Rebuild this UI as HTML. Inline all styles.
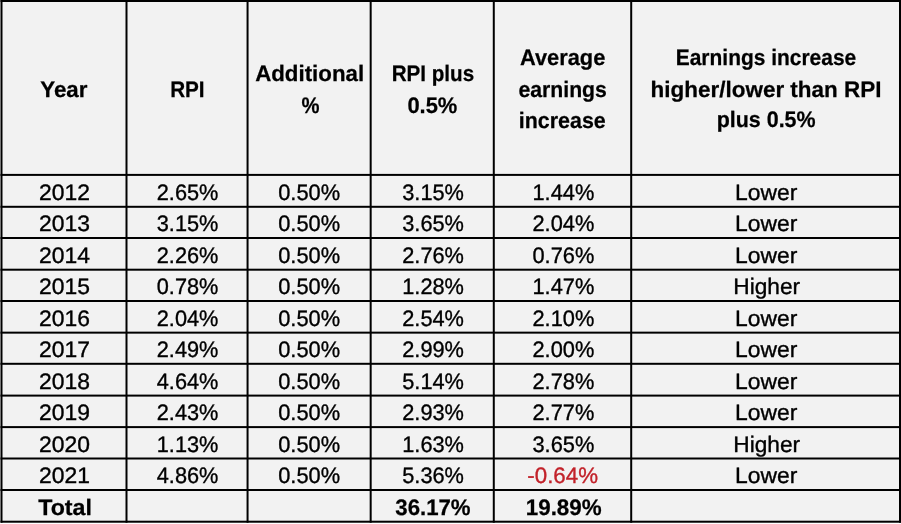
<!DOCTYPE html>
<html><head><meta charset="utf-8"><style>
html,body{margin:0;padding:0;width:901px;height:524px;overflow:hidden;background:#fff}
svg text{font-family:"Liberation Sans", sans-serif;text-rendering:geometricPrecision;}
</style></head><body>
<svg width="901" height="524" viewBox="0 0 901 524" style="display:block;will-change:transform"><rect x="0" y="0" width="901" height="524" fill="#ffffff"/><rect x="0" y="0" width="901" height="523" fill="#f2f2f2"/><rect x="0.50" y="0.00" width="2.00" height="522.70" fill="#000"/><rect x="125.50" y="0.00" width="2.00" height="522.70" fill="#000"/><rect x="246.56" y="0.00" width="2.00" height="522.70" fill="#000"/><rect x="369.67" y="0.00" width="2.00" height="522.70" fill="#000"/><rect x="492.78" y="0.00" width="2.00" height="522.70" fill="#000"/><rect x="630.20" y="0.00" width="2.00" height="522.70" fill="#000"/><rect x="899.00" y="0.00" width="2.00" height="522.70" fill="#000"/><rect x="0.50" y="0.00" width="900.50" height="2.00" fill="#000"/><rect x="0.50" y="173.90" width="900.50" height="2.00" fill="#000"/><rect x="0.50" y="205.80" width="900.50" height="2.00" fill="#000"/><rect x="0.50" y="237.00" width="900.50" height="2.00" fill="#000"/><rect x="0.50" y="268.70" width="900.50" height="2.00" fill="#000"/><rect x="0.50" y="300.00" width="900.50" height="2.00" fill="#000"/><rect x="0.50" y="331.65" width="900.50" height="2.00" fill="#000"/><rect x="0.50" y="362.80" width="900.50" height="2.00" fill="#000"/><rect x="0.50" y="394.60" width="900.50" height="2.00" fill="#000"/><rect x="0.50" y="426.10" width="900.50" height="2.00" fill="#000"/><rect x="0.50" y="457.50" width="900.50" height="2.00" fill="#000"/><rect x="0.50" y="489.00" width="900.50" height="2.00" fill="#000"/><rect x="0.50" y="520.70" width="900.50" height="2.00" fill="#000"/><text x="64.58" y="199.60" text-anchor="middle" font-weight="normal" fill="#000" stroke="#000" stroke-width="0.35" font-size="22.40" textLength="50.95" lengthAdjust="spacingAndGlyphs">2012</text><text x="187.60" y="199.60" text-anchor="middle" font-weight="normal" fill="#000" stroke="#000" stroke-width="0.35" font-size="22.40" textLength="61.67" lengthAdjust="spacingAndGlyphs">2.65%</text><text x="309.17" y="199.60" text-anchor="middle" font-weight="normal" fill="#000" stroke="#000" stroke-width="0.35" font-size="22.40" textLength="61.88" lengthAdjust="spacingAndGlyphs">0.50%</text><text x="433.09" y="199.60" text-anchor="middle" font-weight="normal" fill="#000" stroke="#000" stroke-width="0.35" font-size="22.40" textLength="61.70" lengthAdjust="spacingAndGlyphs">3.15%</text><text x="563.41" y="199.60" text-anchor="middle" font-weight="normal" fill="#000" stroke="#000" stroke-width="0.35" font-size="22.40" textLength="61.83" lengthAdjust="spacingAndGlyphs">1.44%</text><text x="766.15" y="199.60" text-anchor="middle" font-weight="normal" fill="#000" stroke="#000" stroke-width="0.35" font-size="22.40" textLength="62.32" lengthAdjust="spacingAndGlyphs">Lower</text><text x="64.58" y="231.10" text-anchor="middle" font-weight="normal" fill="#000" stroke="#000" stroke-width="0.35" font-size="22.40" textLength="50.95" lengthAdjust="spacingAndGlyphs">2013</text><text x="187.60" y="231.10" text-anchor="middle" font-weight="normal" fill="#000" stroke="#000" stroke-width="0.35" font-size="22.40" textLength="61.67" lengthAdjust="spacingAndGlyphs">3.15%</text><text x="309.17" y="231.10" text-anchor="middle" font-weight="normal" fill="#000" stroke="#000" stroke-width="0.35" font-size="22.40" textLength="61.88" lengthAdjust="spacingAndGlyphs">0.50%</text><text x="433.09" y="231.10" text-anchor="middle" font-weight="normal" fill="#000" stroke="#000" stroke-width="0.35" font-size="22.40" textLength="61.70" lengthAdjust="spacingAndGlyphs">3.65%</text><text x="563.41" y="231.10" text-anchor="middle" font-weight="normal" fill="#000" stroke="#000" stroke-width="0.35" font-size="22.40" textLength="61.83" lengthAdjust="spacingAndGlyphs">2.04%</text><text x="766.15" y="231.10" text-anchor="middle" font-weight="normal" fill="#000" stroke="#000" stroke-width="0.35" font-size="22.40" textLength="62.32" lengthAdjust="spacingAndGlyphs">Lower</text><text x="64.58" y="262.60" text-anchor="middle" font-weight="normal" fill="#000" stroke="#000" stroke-width="0.35" font-size="22.40" textLength="50.95" lengthAdjust="spacingAndGlyphs">2014</text><text x="187.60" y="262.60" text-anchor="middle" font-weight="normal" fill="#000" stroke="#000" stroke-width="0.35" font-size="22.40" textLength="61.67" lengthAdjust="spacingAndGlyphs">2.26%</text><text x="309.17" y="262.60" text-anchor="middle" font-weight="normal" fill="#000" stroke="#000" stroke-width="0.35" font-size="22.40" textLength="61.88" lengthAdjust="spacingAndGlyphs">0.50%</text><text x="433.09" y="262.60" text-anchor="middle" font-weight="normal" fill="#000" stroke="#000" stroke-width="0.35" font-size="22.40" textLength="61.70" lengthAdjust="spacingAndGlyphs">2.76%</text><text x="563.41" y="262.60" text-anchor="middle" font-weight="normal" fill="#000" stroke="#000" stroke-width="0.35" font-size="22.40" textLength="61.83" lengthAdjust="spacingAndGlyphs">0.76%</text><text x="766.15" y="262.60" text-anchor="middle" font-weight="normal" fill="#000" stroke="#000" stroke-width="0.35" font-size="22.40" textLength="62.32" lengthAdjust="spacingAndGlyphs">Lower</text><text x="64.58" y="294.10" text-anchor="middle" font-weight="normal" fill="#000" stroke="#000" stroke-width="0.35" font-size="22.40" textLength="50.95" lengthAdjust="spacingAndGlyphs">2015</text><text x="187.60" y="294.10" text-anchor="middle" font-weight="normal" fill="#000" stroke="#000" stroke-width="0.35" font-size="22.40" textLength="61.67" lengthAdjust="spacingAndGlyphs">0.78%</text><text x="309.17" y="294.10" text-anchor="middle" font-weight="normal" fill="#000" stroke="#000" stroke-width="0.35" font-size="22.40" textLength="61.88" lengthAdjust="spacingAndGlyphs">0.50%</text><text x="433.09" y="294.10" text-anchor="middle" font-weight="normal" fill="#000" stroke="#000" stroke-width="0.35" font-size="22.40" textLength="61.70" lengthAdjust="spacingAndGlyphs">1.28%</text><text x="563.41" y="294.10" text-anchor="middle" font-weight="normal" fill="#000" stroke="#000" stroke-width="0.35" font-size="22.40" textLength="61.83" lengthAdjust="spacingAndGlyphs">1.47%</text><text x="766.70" y="294.10" text-anchor="middle" font-weight="normal" fill="#000" stroke="#000" stroke-width="0.35" font-size="22.40" textLength="66.89" lengthAdjust="spacingAndGlyphs">Higher</text><text x="64.58" y="325.60" text-anchor="middle" font-weight="normal" fill="#000" stroke="#000" stroke-width="0.35" font-size="22.40" textLength="50.95" lengthAdjust="spacingAndGlyphs">2016</text><text x="187.60" y="325.60" text-anchor="middle" font-weight="normal" fill="#000" stroke="#000" stroke-width="0.35" font-size="22.40" textLength="61.67" lengthAdjust="spacingAndGlyphs">2.04%</text><text x="309.17" y="325.60" text-anchor="middle" font-weight="normal" fill="#000" stroke="#000" stroke-width="0.35" font-size="22.40" textLength="61.88" lengthAdjust="spacingAndGlyphs">0.50%</text><text x="433.09" y="325.60" text-anchor="middle" font-weight="normal" fill="#000" stroke="#000" stroke-width="0.35" font-size="22.40" textLength="61.70" lengthAdjust="spacingAndGlyphs">2.54%</text><text x="563.41" y="325.60" text-anchor="middle" font-weight="normal" fill="#000" stroke="#000" stroke-width="0.35" font-size="22.40" textLength="61.83" lengthAdjust="spacingAndGlyphs">2.10%</text><text x="766.15" y="325.60" text-anchor="middle" font-weight="normal" fill="#000" stroke="#000" stroke-width="0.35" font-size="22.40" textLength="62.32" lengthAdjust="spacingAndGlyphs">Lower</text><text x="64.58" y="357.10" text-anchor="middle" font-weight="normal" fill="#000" stroke="#000" stroke-width="0.35" font-size="22.40" textLength="50.95" lengthAdjust="spacingAndGlyphs">2017</text><text x="187.60" y="357.10" text-anchor="middle" font-weight="normal" fill="#000" stroke="#000" stroke-width="0.35" font-size="22.40" textLength="61.67" lengthAdjust="spacingAndGlyphs">2.49%</text><text x="309.17" y="357.10" text-anchor="middle" font-weight="normal" fill="#000" stroke="#000" stroke-width="0.35" font-size="22.40" textLength="61.88" lengthAdjust="spacingAndGlyphs">0.50%</text><text x="433.09" y="357.10" text-anchor="middle" font-weight="normal" fill="#000" stroke="#000" stroke-width="0.35" font-size="22.40" textLength="61.70" lengthAdjust="spacingAndGlyphs">2.99%</text><text x="563.41" y="357.10" text-anchor="middle" font-weight="normal" fill="#000" stroke="#000" stroke-width="0.35" font-size="22.40" textLength="61.83" lengthAdjust="spacingAndGlyphs">2.00%</text><text x="766.15" y="357.10" text-anchor="middle" font-weight="normal" fill="#000" stroke="#000" stroke-width="0.35" font-size="22.40" textLength="62.32" lengthAdjust="spacingAndGlyphs">Lower</text><text x="64.58" y="388.60" text-anchor="middle" font-weight="normal" fill="#000" stroke="#000" stroke-width="0.35" font-size="22.40" textLength="50.95" lengthAdjust="spacingAndGlyphs">2018</text><text x="187.60" y="388.60" text-anchor="middle" font-weight="normal" fill="#000" stroke="#000" stroke-width="0.35" font-size="22.40" textLength="61.67" lengthAdjust="spacingAndGlyphs">4.64%</text><text x="309.17" y="388.60" text-anchor="middle" font-weight="normal" fill="#000" stroke="#000" stroke-width="0.35" font-size="22.40" textLength="61.88" lengthAdjust="spacingAndGlyphs">0.50%</text><text x="433.09" y="388.60" text-anchor="middle" font-weight="normal" fill="#000" stroke="#000" stroke-width="0.35" font-size="22.40" textLength="61.70" lengthAdjust="spacingAndGlyphs">5.14%</text><text x="563.41" y="388.60" text-anchor="middle" font-weight="normal" fill="#000" stroke="#000" stroke-width="0.35" font-size="22.40" textLength="61.83" lengthAdjust="spacingAndGlyphs">2.78%</text><text x="766.15" y="388.60" text-anchor="middle" font-weight="normal" fill="#000" stroke="#000" stroke-width="0.35" font-size="22.40" textLength="62.32" lengthAdjust="spacingAndGlyphs">Lower</text><text x="64.58" y="420.10" text-anchor="middle" font-weight="normal" fill="#000" stroke="#000" stroke-width="0.35" font-size="22.40" textLength="50.95" lengthAdjust="spacingAndGlyphs">2019</text><text x="187.60" y="420.10" text-anchor="middle" font-weight="normal" fill="#000" stroke="#000" stroke-width="0.35" font-size="22.40" textLength="61.67" lengthAdjust="spacingAndGlyphs">2.43%</text><text x="309.17" y="420.10" text-anchor="middle" font-weight="normal" fill="#000" stroke="#000" stroke-width="0.35" font-size="22.40" textLength="61.88" lengthAdjust="spacingAndGlyphs">0.50%</text><text x="433.09" y="420.10" text-anchor="middle" font-weight="normal" fill="#000" stroke="#000" stroke-width="0.35" font-size="22.40" textLength="61.70" lengthAdjust="spacingAndGlyphs">2.93%</text><text x="563.41" y="420.10" text-anchor="middle" font-weight="normal" fill="#000" stroke="#000" stroke-width="0.35" font-size="22.40" textLength="61.83" lengthAdjust="spacingAndGlyphs">2.77%</text><text x="766.15" y="420.10" text-anchor="middle" font-weight="normal" fill="#000" stroke="#000" stroke-width="0.35" font-size="22.40" textLength="62.32" lengthAdjust="spacingAndGlyphs">Lower</text><text x="64.58" y="451.60" text-anchor="middle" font-weight="normal" fill="#000" stroke="#000" stroke-width="0.35" font-size="22.40" textLength="50.95" lengthAdjust="spacingAndGlyphs">2020</text><text x="187.60" y="451.60" text-anchor="middle" font-weight="normal" fill="#000" stroke="#000" stroke-width="0.35" font-size="22.40" textLength="61.67" lengthAdjust="spacingAndGlyphs">1.13%</text><text x="309.17" y="451.60" text-anchor="middle" font-weight="normal" fill="#000" stroke="#000" stroke-width="0.35" font-size="22.40" textLength="61.88" lengthAdjust="spacingAndGlyphs">0.50%</text><text x="433.09" y="451.60" text-anchor="middle" font-weight="normal" fill="#000" stroke="#000" stroke-width="0.35" font-size="22.40" textLength="61.70" lengthAdjust="spacingAndGlyphs">1.63%</text><text x="563.41" y="451.60" text-anchor="middle" font-weight="normal" fill="#000" stroke="#000" stroke-width="0.35" font-size="22.40" textLength="61.83" lengthAdjust="spacingAndGlyphs">3.65%</text><text x="766.70" y="451.60" text-anchor="middle" font-weight="normal" fill="#000" stroke="#000" stroke-width="0.35" font-size="22.40" textLength="66.89" lengthAdjust="spacingAndGlyphs">Higher</text><text x="64.58" y="483.10" text-anchor="middle" font-weight="normal" fill="#000" stroke="#000" stroke-width="0.35" font-size="22.40" textLength="50.95" lengthAdjust="spacingAndGlyphs">2021</text><text x="187.60" y="483.10" text-anchor="middle" font-weight="normal" fill="#000" stroke="#000" stroke-width="0.35" font-size="22.40" textLength="61.67" lengthAdjust="spacingAndGlyphs">4.86%</text><text x="309.17" y="483.10" text-anchor="middle" font-weight="normal" fill="#000" stroke="#000" stroke-width="0.35" font-size="22.40" textLength="61.88" lengthAdjust="spacingAndGlyphs">0.50%</text><text x="433.09" y="483.10" text-anchor="middle" font-weight="normal" fill="#000" stroke="#000" stroke-width="0.35" font-size="22.40" textLength="61.70" lengthAdjust="spacingAndGlyphs">5.36%</text><text x="562.67" y="483.10" text-anchor="middle" font-weight="normal" fill="#c2222a" stroke="#c2222a" stroke-width="0.35" font-size="22.40" textLength="70.68" lengthAdjust="spacingAndGlyphs">-0.64%</text><text x="766.15" y="483.10" text-anchor="middle" font-weight="normal" fill="#000" stroke="#000" stroke-width="0.35" font-size="22.40" textLength="62.32" lengthAdjust="spacingAndGlyphs">Lower</text><text x="65.06" y="514.60" text-anchor="middle" font-weight="bold" fill="#000" stroke="#000" stroke-width="0.25" font-size="22.40" textLength="53.75" lengthAdjust="spacingAndGlyphs">Total</text><text x="432.94" y="514.60" text-anchor="middle" font-weight="bold" fill="#000" stroke="#000" stroke-width="0.25" font-size="22.40" textLength="75.28" lengthAdjust="spacingAndGlyphs">36.17%</text><text x="563.70" y="514.60" text-anchor="middle" font-weight="bold" fill="#000" stroke="#000" stroke-width="0.25" font-size="22.40" textLength="75.85" lengthAdjust="spacingAndGlyphs">19.89%</text><text x="63.88" y="97.20" text-anchor="middle" font-weight="bold" fill="#000" stroke="#000" stroke-width="0.25" font-size="22.40" textLength="47.20" lengthAdjust="spacingAndGlyphs">Year</text><text x="187.37" y="97.20" text-anchor="middle" font-weight="bold" fill="#000" stroke="#000" stroke-width="0.25" font-size="22.40" textLength="34.47" lengthAdjust="spacingAndGlyphs">RPI</text><text x="309.64" y="80.80" text-anchor="middle" font-weight="bold" fill="#000" stroke="#000" stroke-width="0.25" font-size="22.40" textLength="109.02" lengthAdjust="spacingAndGlyphs">Additional</text><text x="310.55" y="112.80" text-anchor="middle" font-weight="bold" fill="#000" stroke="#000" stroke-width="0.25" font-size="22.40" textLength="18.00" lengthAdjust="spacingAndGlyphs">%</text><text x="432.90" y="80.80" text-anchor="middle" font-weight="bold" fill="#000" stroke="#000" stroke-width="0.25" font-size="22.40" textLength="82.54" lengthAdjust="spacingAndGlyphs">RPI plus</text><text x="432.36" y="112.80" text-anchor="middle" font-weight="bold" fill="#000" stroke="#000" stroke-width="0.25" font-size="22.40" textLength="49.96" lengthAdjust="spacingAndGlyphs">0.5%</text><text x="562.66" y="65.00" text-anchor="middle" font-weight="bold" fill="#000" stroke="#000" stroke-width="0.25" font-size="22.40" textLength="85.26" lengthAdjust="spacingAndGlyphs">Average</text><text x="562.66" y="96.90" text-anchor="middle" font-weight="bold" fill="#000" stroke="#000" stroke-width="0.25" font-size="22.40" textLength="88.40" lengthAdjust="spacingAndGlyphs">earnings</text><text x="562.27" y="127.90" text-anchor="middle" font-weight="bold" fill="#000" stroke="#000" stroke-width="0.25" font-size="22.40" textLength="86.82" lengthAdjust="spacingAndGlyphs">increase</text><text x="765.98" y="64.80" text-anchor="middle" font-weight="bold" fill="#000" stroke="#000" stroke-width="0.25" font-size="22.40" textLength="180.45" lengthAdjust="spacingAndGlyphs">Earnings increase</text><text x="766.03" y="96.70" text-anchor="middle" font-weight="bold" fill="#000" stroke="#000" stroke-width="0.25" font-size="22.40" textLength="230.90" lengthAdjust="spacingAndGlyphs">higher/lower than RPI</text><text x="766.15" y="127.00" text-anchor="middle" font-weight="bold" fill="#000" stroke="#000" stroke-width="0.25" font-size="22.40" textLength="98.87" lengthAdjust="spacingAndGlyphs">plus 0.5%</text></svg>
</body></html>
